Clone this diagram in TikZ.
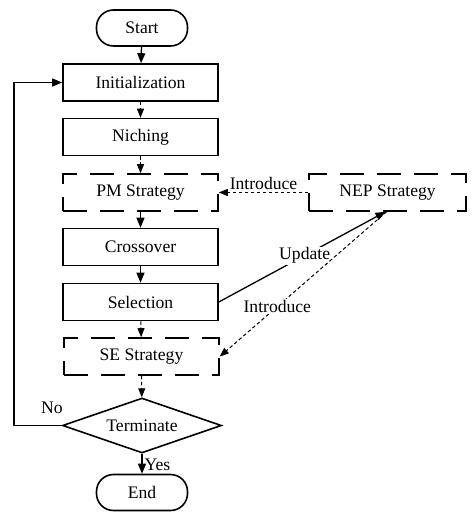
\documentclass[tikz,border=0pt]{standalone}
\usepackage{fontspec}
\setmainfont{Liberation Serif}
\usetikzlibrary{arrows.meta,shapes.geometric}
\begin{document}
\begin{tikzpicture}[x=1pt,y=-1pt,
  every node/.style={font=\fontsize{17.6}{20}\selectfont},
  solidbox/.style={draw,line width=1.6pt,minimum width=155pt,minimum height=37pt,inner sep=0pt},
  dashbox/.style={solidbox,dash pattern=on 24pt off 13pt},
  term/.style={draw,line width=1.6pt,rounded corners=17pt,minimum width=91pt,minimum height=36pt,inner sep=0pt},
  decision/.style={draw,line width=1.6pt,diamond,aspect=2.9,minimum width=159pt,minimum height=55pt,inner sep=0pt},
  arr/.style={line width=1.3pt,-{Triangle[length=10pt,width=8pt]}},
  darr/.style={line width=1pt,dash pattern=on 3.5pt off 2.5pt,-{Triangle[length=9pt,width=7pt]}},
  lbl/.style={fill=white,inner sep=1pt}]
\useasboundingbox (0,0) rectangle (474,518);
\node[term] (start) at (142,28) {Start};
\node[solidbox] (init) at (140.5,82.5) {Initialization};
\node[solidbox] (nich) at (140.5,137) {Niching};
\node[dashbox] (pm) at (140.5,192.5) {PM Strategy};
\node[solidbox] (cross) at (140.5,247) {Crossover};
\node[solidbox] (sel) at (140.5,302) {Selection};
\node[dashbox] (se) at (141.5,356.5) {SE Strategy};
\node[decision] (term) at (142,425.5) {Terminate};
\node[term] (end) at (142,492.5) {End};
\node[dashbox,minimum width=157pt] (nep) at (387.5,192.5) {NEP Strategy};
\coordinate (loopb) at (14,425.5);
\coordinate (loopt) at (14,82.5);
\draw[arr] (start) -- (init);
\draw[darr] (init) -- (nich);
\draw[darr] (nich) -- (pm);
\draw[arr] (pm) -- (cross);
\draw[arr] (cross) -- (sel);
\draw[darr] (sel) -- (se);
\draw[darr] (se) -- (term);
\draw[arr] (term) -- node[right,inner sep=2pt,pos=0.55]{Yes} (end);
\draw[line width=1.3pt] (term.west) -- (loopb) -- (loopt);
\draw[arr] (loopt) -- (init.west);
\node at (52,408) {No};
\draw[darr] (nep.west) -- node[above,inner sep=2pt]{Introduce} (pm.east);
\draw[arr] (sel.east) -- node[lbl,pos=0.515]{Update} ([xshift=-2pt]nep.south);
\draw[darr] ([xshift=-1pt]nep.south) -- node[lbl,pos=0.655]{Introduce} (se.east);
\end{tikzpicture}
\end{document}
